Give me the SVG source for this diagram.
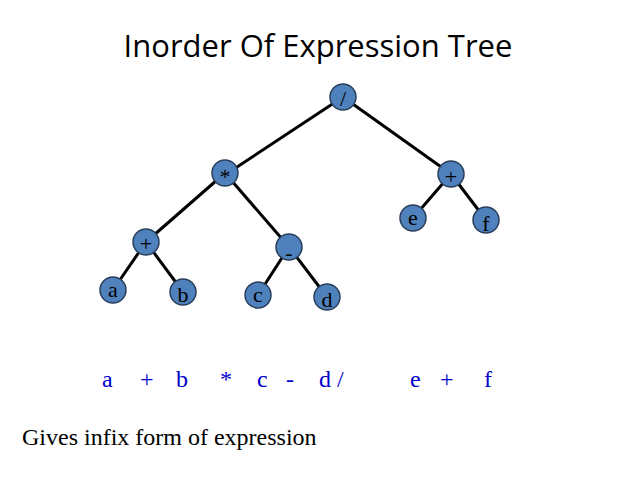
<svg xmlns="http://www.w3.org/2000/svg" width="638" height="478" viewBox="0 0 638 478">
<style>
.n circle{fill:#4F81BD;stroke:#2a3f5c;stroke-width:1.5}
.n text{font-family:"Liberation Serif",serif;font-size:22px;fill:#000;text-anchor:middle}
.e line{stroke:#000;stroke-width:3}
.t{font-family:"Liberation Serif",serif;font-size:24px}
</style>
<rect width="638" height="478" fill="#fff"/>
<text x="318" y="57" text-anchor="middle" style="font-family:'Open Sans','Liberation Sans',sans-serif;font-size:31px">Inorder Of Expression Tree</text>
<g id="edges" class="e">
<line x1="343" y1="97" x2="228" y2="173"/>
<line x1="343" y1="97" x2="451" y2="174"/>
<line x1="451" y1="174" x2="413" y2="218"/>
<line x1="451" y1="174" x2="486" y2="220"/>
<line x1="225" y1="173" x2="146" y2="242"/>
<line x1="225" y1="173" x2="289" y2="247"/>
<line x1="146" y1="242" x2="113" y2="290"/>
<line x1="146" y1="242" x2="183" y2="292"/>
<line x1="289" y1="247" x2="258" y2="295"/>
<line x1="289" y1="247" x2="327" y2="297"/>
</g>
<g id="n-div" class="n"><circle cx="343" cy="97" r="13"/><text x="343" y="106">/</text></g>
<g id="n-mul" class="n"><circle cx="225" cy="173" r="13"/><text x="225" y="184">*</text></g>
<g id="n-plus2" class="n"><circle cx="451" cy="174" r="13"/><text x="451" y="184">+</text></g>
<g id="n-e" class="n"><circle cx="413" cy="218" r="13"/><text x="413" y="225">e</text></g>
<g id="n-f" class="n"><circle cx="486" cy="220" r="13"/><text x="486" y="231">f</text></g>
<g id="n-plus1" class="n"><circle cx="146" cy="242" r="13"/><text x="146" y="251">+</text></g>
<g id="n-minus" class="n"><circle cx="289" cy="247" r="13"/><text x="289" y="260">-</text></g>
<g id="n-a" class="n"><circle cx="113" cy="290" r="13"/><text x="113" y="297">a</text></g>
<g id="n-b" class="n"><circle cx="183" cy="292" r="13"/><text x="183" y="302">b</text></g>
<g id="n-c" class="n"><circle cx="258" cy="295" r="13"/><text x="258" y="302">c</text></g>
<g id="n-d" class="n"><circle cx="327" cy="297" r="13"/><text x="327" y="307">d</text></g>
<g class="t" fill="#0000cc">
<text x="102" y="387">a</text><text x="140" y="387">+</text><text x="176" y="387">b</text>
<text x="220" y="387">*</text><text x="257" y="387">c</text><text x="286" y="387">-</text>
<text x="319" y="387">d /</text><text x="410" y="387">e</text><text x="440" y="387">+</text><text x="484" y="387">f</text>
</g>
<text x="22" y="445" class="t" fill="#000">Gives infix form of expression</text>
</svg>
